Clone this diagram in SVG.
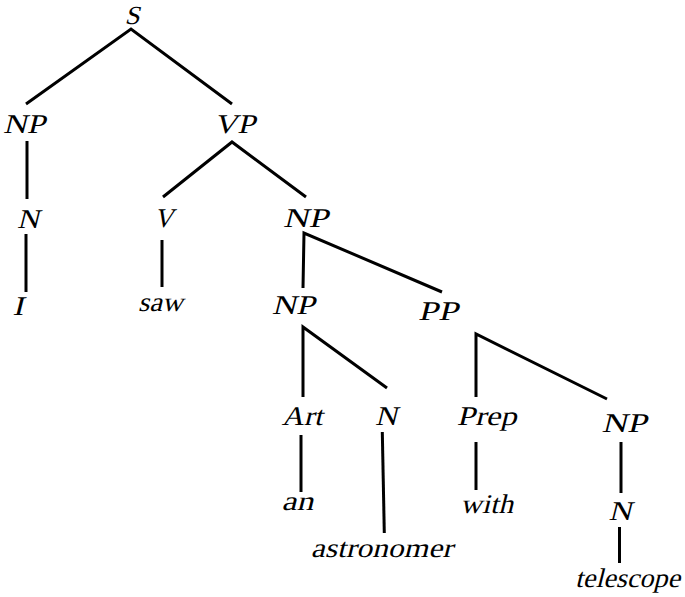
<svg xmlns="http://www.w3.org/2000/svg" width="685" height="597" viewBox="0 0 685 597">
<style>
text{font-family:"Liberation Serif","DejaVu Serif",serif;font-style:normal;font-size:27px;fill:#000;text-anchor:middle}
.e{fill:none;stroke:#000;stroke-width:3;stroke-linejoin:miter;stroke-linecap:butt}
</style>
<rect width="685" height="597" fill="#fff"/>
<g id="connectors">
<path class="e" d="M26,104 L131,29 L232,104"/>
<path class="e" d="M27,141 L27,199"/>
<path class="e" d="M26,234 L26,292"/>
<path class="e" d="M163,197 L232,142 L306,197"/>
<path class="e" d="M162,240 L162,287"/>
<path class="e" d="M303,288 L304,233 L442,292"/>
<path class="e" d="M303,397 L303,327 L387,388"/>
<path class="e" d="M301,435 L301,492"/>
<path class="e" d="M382.3,432 L384.3,533"/>
<path class="e" d="M476,397 L476,334 L607,399"/>
<path class="e" d="M476,442 L476,490"/>
<path class="e" d="M621,442 L621,493"/>
<path class="e" d="M619.5,527 L619.5,563"/>
</g>
<g id="S"><text transform="translate(132,23.5) skewX(-14)" style="font-size:26px" textLength="15" lengthAdjust="spacingAndGlyphs">S</text></g>
<g id="NP1"><text transform="translate(24,133) skewX(-14)" textLength="42" lengthAdjust="spacingAndGlyphs">NP</text></g>
<g id="VP"><text transform="translate(234.5,133) skewX(-14)" textLength="41" lengthAdjust="spacingAndGlyphs">VP</text></g>
<g id="N1"><text transform="translate(28,228) skewX(-14)" textLength="22" lengthAdjust="spacingAndGlyphs">N</text></g>
<g id="I"><text transform="translate(18,315) skewX(-14)" textLength="11" lengthAdjust="spacingAndGlyphs">I</text></g>
<g id="V"><text transform="translate(163.5,227) skewX(-14)" textLength="19" lengthAdjust="spacingAndGlyphs">V</text></g>
<g id="saw"><text transform="translate(160.5,311) skewX(-14)" textLength="45" lengthAdjust="spacingAndGlyphs">saw</text></g>
<g id="NP2"><text transform="translate(305.5,227) skewX(-14)" textLength="45" lengthAdjust="spacingAndGlyphs">NP</text></g>
<g id="NP3"><text transform="translate(293.3,314) skewX(-14)" textLength="43" lengthAdjust="spacingAndGlyphs">NP</text></g>
<g id="PP"><text transform="translate(438,320) skewX(-14)" textLength="40" lengthAdjust="spacingAndGlyphs">PP</text></g>
<g id="Art"><text transform="translate(302,425) skewX(-14)" textLength="41" lengthAdjust="spacingAndGlyphs">Art</text></g>
<g id="N2"><text transform="translate(386,425) skewX(-14)" textLength="22" lengthAdjust="spacingAndGlyphs">N</text></g>
<g id="Prep"><text transform="translate(486.7,425) skewX(-14)" textLength="60" lengthAdjust="spacingAndGlyphs">Prep</text></g>
<g id="NP4"><text transform="translate(624,432) skewX(-14)" textLength="45" lengthAdjust="spacingAndGlyphs">NP</text></g>
<g id="an"><text transform="translate(297.5,510) skewX(-14)" textLength="32" lengthAdjust="spacingAndGlyphs">an</text></g>
<g id="astronomer"><text transform="translate(381.7,557) skewX(-14)" textLength="142" lengthAdjust="spacingAndGlyphs">astronomer</text></g>
<g id="with"><text transform="translate(486.7,513) skewX(-14)" textLength="53" lengthAdjust="spacingAndGlyphs">with</text></g>
<g id="N3"><text transform="translate(620,520) skewX(-14)" textLength="23" lengthAdjust="spacingAndGlyphs">N</text></g>
<g id="telescope"><text transform="translate(627.5,587) skewX(-14)" textLength="105" lengthAdjust="spacingAndGlyphs">telescope</text></g>
</svg>
